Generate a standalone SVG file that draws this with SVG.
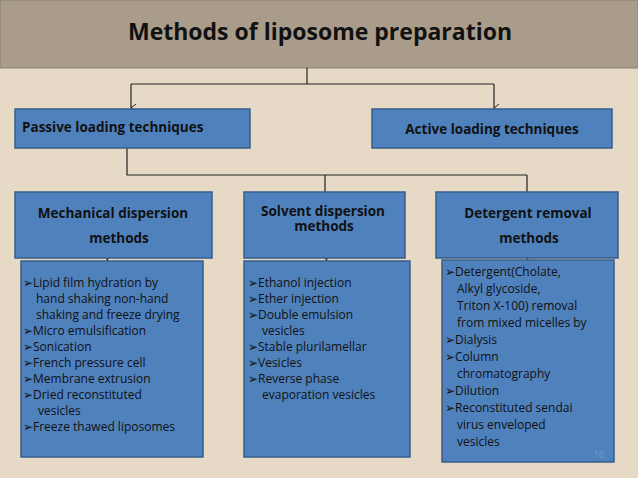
<svg xmlns="http://www.w3.org/2000/svg" width="638" height="478" viewBox="0 0 638 478">
<style>
.box{fill:#4f81bd;stroke:#385d8a;stroke-width:1.5}
.h{font-family:"Open Sans","Liberation Sans",sans-serif;font-weight:bold;font-size:13.5px;fill:#111}
.t{font-family:"Open Sans","Liberation Sans",sans-serif;font-size:12px;fill:#111}
.c{fill:none;stroke:#222;stroke-width:1.2}
</style>
<defs><marker id="a" markerWidth="8" markerHeight="8" refX="4" refY="7" orient="auto" markerUnits="userSpaceOnUse"><path d="M0,2 L4,7 L8,2" fill="none" stroke="#222" stroke-width="1"/></marker></defs>
<rect width="638" height="478" fill="#e6dac6"/>
<g id="title"><rect x="0" y="0" width="638" height="68" fill="#a99c8b" stroke="#8a8070"/>
<text x="320" y="40" text-anchor="middle" font-family="'Open Sans','Liberation Sans',sans-serif" font-weight="bold" font-size="23" fill="#111">Methods  of liposome preparation</text></g>
<g id="connectors">
<path class="c" d="M307,68V84" stroke-width="2"/>
<path class="c" d="M131,84H494"/>
<path class="c" d="M131,84V108" marker-end="url(#a)"/>
<path class="c" d="M494,84V108" marker-end="url(#a)"/>
<path class="c" d="M127,148V175H527"/>
<path class="c" d="M325,175V192M527,175V192"/>
<path class="c" d="M107,258V260" marker-end="url(#a)"/>
<path class="c" d="M326,258V260" marker-end="url(#a)"/>
<path class="c" d="M527,258V259" marker-end="url(#a)"/>
</g>
<g id="passive"><rect class="box" x="15" y="109" width="235" height="39"/><text class="h" x="22" y="132">Passive loading techniques</text></g>
<g id="active"><rect class="box" x="372" y="109" width="240" height="39"/><text class="h" x="492" y="134" text-anchor="middle">Active loading techniques</text></g>
<g id="mech"><rect class="box" x="15" y="192" width="197" height="66"/><text class="h" x="113" y="218" text-anchor="middle">Mechanical dispersion</text><text class="h" x="119" y="243" text-anchor="middle">methods</text></g>
<g id="solv"><rect class="box" x="244" y="192" width="161" height="66"/><text class="h" x="323" y="216" text-anchor="middle">Solvent dispersion</text><text class="h" x="324" y="231" text-anchor="middle">methods</text></g>
<g id="det"><rect class="box" x="436" y="192" width="182" height="66"/><text class="h" x="528" y="218" text-anchor="middle">Detergent removal</text><text class="h" x="529" y="243" text-anchor="middle">methods</text></g>
<g id="list1"><rect class="box" x="21" y="261" width="182" height="196"/>
<text class="t" x="23" y="287"><tspan>➢Lipid film hydration by</tspan><tspan x="36" dy="16">hand shaking non-hand</tspan><tspan x="36" dy="16">shaking and freeze drying</tspan><tspan x="23" dy="16">➢Micro emulsification</tspan><tspan x="23" dy="16">➢Sonication</tspan><tspan x="23" dy="16">➢French pressure cell</tspan><tspan x="23" dy="16">➢Membrane extrusion</tspan><tspan x="23" dy="16">➢Dried reconstituted</tspan><tspan x="38" dy="16">vesicles</tspan><tspan x="23" dy="16">➢Freeze thawed liposomes</tspan></text></g>
<g id="list2"><rect class="box" x="244" y="261" width="166" height="196"/>
<text class="t" x="248" y="287"><tspan>➢Ethanol injection</tspan><tspan x="248" dy="16">➢Ether injection</tspan><tspan x="248" dy="16">➢Double emulsion</tspan><tspan x="262" dy="16">vesicles</tspan><tspan x="248" dy="16">➢Stable plurilamellar</tspan><tspan x="248" dy="16">➢Vesicles</tspan><tspan x="248" dy="16">➢Reverse phase</tspan><tspan x="262" dy="16">evaporation vesicles</tspan></text></g>
<g id="list3"><rect class="box" x="442" y="260" width="172" height="202"/>
<text class="t" x="445" y="276"><tspan>➢Detergent(Cholate,</tspan><tspan x="457" dy="17">Alkyl glycoside,</tspan><tspan x="457" dy="17">Triton X-100) removal</tspan><tspan x="457" dy="17">from mixed micelles by</tspan><tspan x="445" dy="17">➢Dialysis</tspan><tspan x="445" dy="17">➢Column</tspan><tspan x="457" dy="17">chromatography</tspan><tspan x="445" dy="17">➢Dilution</tspan><tspan x="445" dy="17">➢Reconstituted sendai</tspan><tspan x="457" dy="17">virus enveloped</tspan><tspan x="457" dy="17">vesicles</tspan></text>
<text x="604" y="458" font-family="'Open Sans',sans-serif" font-size="9" fill="#7a9ac8" text-anchor="end">10</text></g>
</svg>
